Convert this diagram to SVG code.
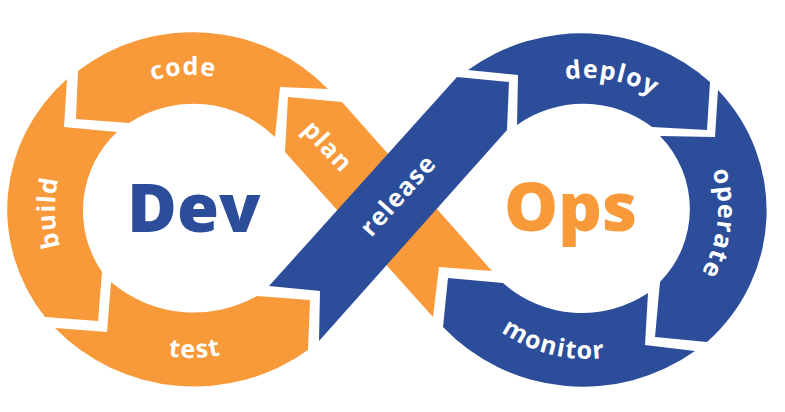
<svg xmlns="http://www.w3.org/2000/svg" width="785" height="412" viewBox="0 0 785 412">
<style>
.o{fill:#F8993A}
.b{fill:#2C4E9A}
.lbl{font-family:"Open Sans","Liberation Sans",sans-serif;font-weight:700;font-size:25px;fill:#FFFFFF;letter-spacing:1.2px}
.big{font-family:"Open Sans","Liberation Sans",sans-serif;font-weight:800;font-size:68px}
</style>
<defs>
<path id="pCode" d="M57,209 A134,134 0 0 1 325,209"/>
<path id="pBuild" d="M191,345 A136,136 0 0 1 191,73"/>
<path id="pTest" d="M42,209 A149,149 0 0 0 340,209"/>
<path id="pDeploy" d="M456,209 A131,131 0 0 1 718,209"/>
<path id="pOperate" d="M587,78 A131,131 0 0 1 587,340"/>
<path id="pMonitor" d="M437,209 A150,150 0 0 0 737,209"/>
</defs>
<rect width="785" height="412" fill="#FFFFFF"/>
<g id="code">
<path class="o" d="M78,71 L76,119 L129,123 A117,117 0 0 1 275,137 L280,87 L328,89 A184,177 0 0 0 78,71 Z"/>
<text class="lbl" text-anchor="middle"><textPath href="#pCode" startOffset="203">code</textPath></text>
</g>
<g id="build">
<path class="o" d="M67,79 L64,127 L117,132 A108,108 0 0 0 102,272 L98,321 L45,317 A184,177 0 0 1 67,79 Z"/>
<text class="lbl" text-anchor="middle"><textPath href="#pBuild" startOffset="210">build</textPath></text>
</g>
<g id="test">
<path class="o" d="M55,328 L107,332 L111,282 A128,128 0 0 0 257,296 L310,300 L308,350 A190,183 0 0 1 55,328 Z"/>
<text class="lbl" text-anchor="middle"><textPath href="#pTest" startOffset="238">test</textPath></text>
</g>
<g id="plan">
<path class="o" d="M288,97 L342,102 L492,271 L439,267 L433,317 L285,152 Z"/>
<text class="lbl" text-anchor="middle" transform="translate(326,148) rotate(47)" x="0" y="6">plan</text>
</g>
<g id="release">
<path class="b" d="M269,286 L320,291 L319,341 L507,130 L509,82 L457,77 Z"/>
<text class="lbl" text-anchor="middle" transform="translate(400,197) rotate(-48)" x="0" y="6">release</text>
</g>
<g id="deploy">
<path class="b" d="M468,70 L518,75 L517,125 A114,114 0 0 1 652,127 L707,130 L710,82 A190,185 0 0 0 468,70 Z"/>
<text class="lbl" text-anchor="middle"><textPath href="#pDeploy" startOffset="230">deploy</textPath></text>
</g>
<g id="operate">
<path class="b" d="M718,90 L715,137 L660,136 A105,104.5 0 0 1 660,282 L655,337 L707,342 A181,177 0 0 0 718,90 Z"/>
<text class="lbl" text-anchor="middle"><textPath href="#pOperate" startOffset="220">operate</textPath></text>
</g>
<g id="monitor">
<path class="b" d="M648,293 L645,345 L695,351 A190,185 0 0 1 443,327 L448,278 L503,283 A119,119 0 0 0 648,293 Z"/>
<text class="lbl" text-anchor="middle"><textPath href="#pMonitor" startOffset="199">monitor</textPath></text>
</g>
<g id="dev">
<text class="big" x="127" y="232" fill="#2C4E9A">Dev</text>
</g>
<g id="ops">
<text class="big" x="504" y="231" fill="#F8993A">Ops</text>
</g>
<g id="connectors"></g>
</svg>
